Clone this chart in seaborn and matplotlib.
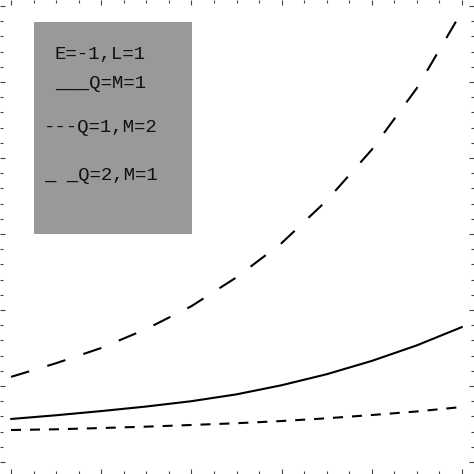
import seaborn as sns
import matplotlib.pyplot as plt
import matplotlib.patches as mpatches
from matplotlib.ticker import MultipleLocator
import numpy as np

# values
x_vals = [0, 0.5, 1, 1.5, 2, 2.5, 3, 3.5, 4, 4.5, 5]
q1_m1 = [0.566, 0.615, 0.67, 0.73, 0.80, 0.89, 1.01, 1.155, 1.33, 1.535, 1.776]
q1_m2 = [0.421, 0.43, 0.447, 0.465, 0.487, 0.51, 0.539, 0.575, 0.618, 0.665, 0.724]
q2_m1 = [1.12, 1.30, 1.50, 1.75, 2.05, 2.43, 2.88, 3.44, 4.11, 4.92, 5.93]

legend_lines = ['E=-1,L=1', '___Q=M=1', '---Q=1,M=2', '_ _Q=2,M=1']

sns.set_style('white')
plt.rcParams['font.family'] = ['Liberation Mono', 'DejaVu Sans Mono']

fig = plt.figure(figsize=(4.74, 4.74), dpi=100)
ax = fig.add_axes([0, 0, 1, 1])

lw = 1.5
sns.lineplot(x=x_vals, y=q1_m1, ax=ax, color='black', linewidth=lw)
sns.lineplot(x=x_vals, y=q1_m2, ax=ax, color='black', linewidth=lw,
             linestyle=(0, (4.8, 4.3)))
sns.lineplot(x=x_vals, y=q2_m1, ax=ax, color='black', linewidth=lw,
             linestyle=(0, (9.1, 9.1)))

ax.set_xlim(-0.122, 5.133)
ax.set_ylim(-0.158, 6.079)
ax.xaxis.set_major_locator(MultipleLocator(1))
ax.xaxis.set_minor_locator(MultipleLocator(0.25))
ax.yaxis.set_major_locator(MultipleLocator(1))
ax.yaxis.set_minor_locator(MultipleLocator(0.2))
ax.tick_params(which='both', direction='in', top=True, right=True, bottom=True, left=True,
               labelbottom=False, labelleft=False, color='#444444', width=0.8)
ax.tick_params(which='major', length=3.8)
ax.tick_params(which='minor', length=2.2)
for s in ax.spines.values():
    s.set_visible(False)
ax.set_xlabel('')
ax.set_ylabel('')

# grey legend box
box = mpatches.Rectangle((34 / 474, 1 - 234 / 474), 158 / 474, 212 / 474,
                         transform=ax.transAxes, facecolor='#999999', edgecolor='none', zorder=3)
ax.add_patch(box)

text_pos = [(55, 55), (55, 83), (44, 128), (44, 175)]
for txt, (px, py) in zip(legend_lines, text_pos):
    ax.text(px / 474, 1 - py / 474, txt, transform=ax.transAxes, ha='left', va='center',
            fontsize=13.7, color='#111111', zorder=4)

plt.savefig('out.png', dpi=100)
